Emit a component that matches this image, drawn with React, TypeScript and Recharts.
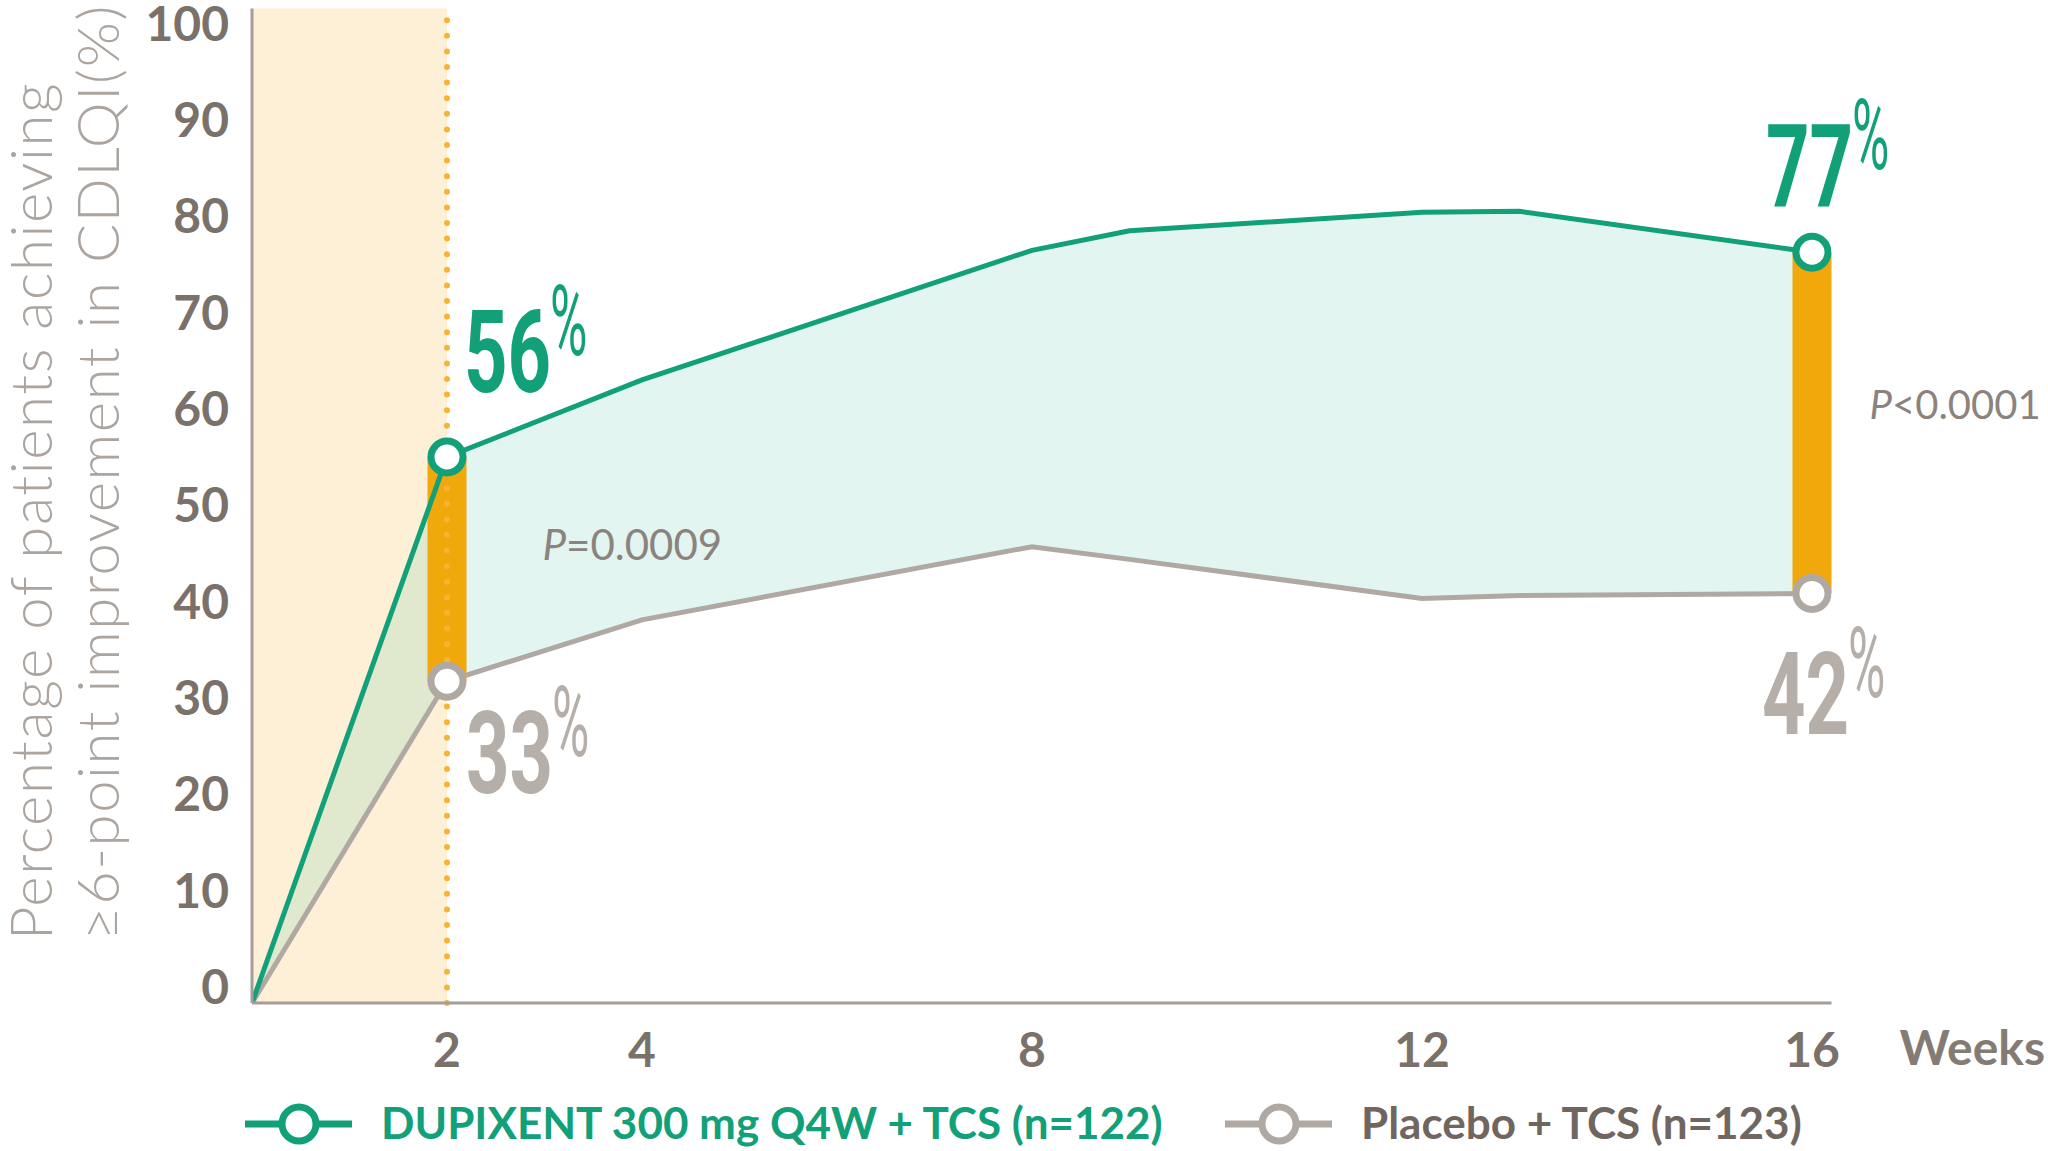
import React from "react";
import {
  ComposedChart, Line, Area, XAxis, YAxis,
  ReferenceArea, ReferenceLine, Legend,
} from "recharts";

// values
const weeks = [0, 2, 4, 8, 9, 12, 13, 16];
const dupixent = [0, 56, 63.9, 77.2, 79.2, 81.1, 81.2, 77];
const placebo = [0, 33, 39.3, 46.8, 45.5, 41.5, 41.8, 42];
const markedWeeks = [2, 16];
const runInWeeks = [0, 2];
const xTicks = [2, 4, 8, 12, 16];
const yTicks = [0, 10, 20, 30, 40, 50, 60, 70, 80, 90, 100];
const pValues = ["P=0.0009", "P<0.0001"];
const seriesNames = ["DUPIXENT 300 mg Q4W + TCS (n=122)", "Placebo + TCS (n=123)"];
const yTitle = ["Percentage of patients achieving", "≥6-point improvement in CDLQI(%)"];

const data = weeks.map((w, i) => ({
  week: w,
  dupixent: dupixent[i],
  placebo: placebo[i],
  band: [placebo[i], dupixent[i]],
}));

const GREEN = "#12A079";
const GREY = "#B0A8A3";
const GREY_TEXT = "#B5AEA9";
const ORANGE = "#F0A80B";
const BEIGE = "#FDF0D6";
const TICK = "#7B716B";
const TITLE = "#ABA49F";
const PTEXT = "#8C837E";

// where the big % callouts sit relative to their point
const bigOffsets: Record<string, Record<number, [number, number]>> = {
  dupixent: { 2: [17, -65], 16: [-46, -46] },
  placebo: { 2: [19, 112], 16: [-50, 140] },
};
// p-value text relative to the orange bar (right edge, vertical centre)
const pOffsets: [number, number][] = [[76, -9], [38, -4]];
const pSizes = [42, 40];

const BigValue = ({ x, y, text, color }: any) => (
  <g transform={`translate(${x},${y})`}>
    <text transform="scale(0.66,1)" fontFamily="Roboto" fontWeight={700} fontSize={115} fill={color}>
      {text}
    </text>
    <text transform="translate(86,-37) scale(0.52,1)" fontFamily="Roboto" fontWeight={400} fontSize={98} fill={color}>
      %
    </text>
  </g>
);

const makeBigLabel = (key: string, color: string) => (props: any) => {
  const { x, y, value, index } = props;
  const off = bigOffsets[key][weeks[index]];
  if (!off) return <g key={`bl-${key}-${index}`} />;
  return <BigValue key={`bl-${key}-${index}`} x={x + off[0]} y={y + off[1]} text={Math.round(value)} color={color} />;
};

const makeDot = (color: string) => (props: any) => {
  const { cx, cy, payload, index } = props;
  if (!markedWeeks.includes(payload.week)) return <g key={`d-${index}`} />;
  return <circle key={`d-${index}`} cx={cx} cy={cy} r={16} fill="#fff" stroke={color} strokeWidth={7} />;
};

// tick labels in the original sit on a slightly tighter spacing than the data
const YTick = ({ x, y, payload }: any) => (
  <text x={x} y={y + 1 + 0.115 * payload.value} textAnchor="end" fontFamily="Lato" fontWeight={700} fontSize={48} fill={TICK}>
    {payload.value}
  </text>
);

const XTick = ({ x, y, payload }: any) => (
  <text x={x} y={y + 62} textAnchor="middle" fontFamily="Lato" fontWeight={700} fontSize={48} fill={TICK}>
    {payload.value}
  </text>
);

const WeeksLabel = (props: any) => {
  const vb = props.viewBox || {};
  return (
    <text x={vb.x + vb.width + 68} y={1065} fontFamily="Lato" fontWeight={700} fontSize={48} fill="#857B75">
      Weeks
    </text>
  );
};

const YTitle = () => (
  <g fontFamily="Lato" fontWeight={300} fontSize={58} fill={TITLE} letterSpacing={1.6}>
    <text transform="translate(52,940) rotate(-90)">{yTitle[0]}</text>
    <text transform="translate(119,940) rotate(-90)">{yTitle[1]}</text>
  </g>
);

const makePLabel = (i: number) => (props: any) => {
  const vb = props.viewBox || {};
  const [dx, dy] = pOffsets[i];
  const text = pValues[i];
  return (
    <text x={vb.x + vb.width + dx} y={vb.y + vb.height / 2 + dy} fontFamily="Lato" fontSize={pSizes[i]} fill={PTEXT}>
      <tspan fontStyle="italic">{text[0]}</tspan>
      {text.slice(1)}
    </text>
  );
};

const legendSlots: [number, number][] = [[245, 381], [1225, 1361]];
const legendText = [GREEN, "#70665F"];

const LegendContent = ({ payload }: any) => {
  const items = (payload || []).filter((p: any) => p.type !== "none");
  return (
    <svg width={2048} height={60}>
      {items.map((p: any, i: number) => {
        const [ix, tx] = legendSlots[i];
        const c = p.color;
        return (
          <g key={p.value}>
            <line x1={ix} x2={ix + 107} y1={30} y2={30} stroke={c} strokeWidth={7} />
            <circle cx={ix + 54} cy={30} r={17} fill="#fff" stroke={c} strokeWidth={7} />
            <text x={tx} y={45} fontFamily="Lato" fontWeight={700} fontSize={44} fill={legendText[i]}>
              {p.value}
            </text>
          </g>
        );
      })}
    </svg>
  );
};

export default function App() {
  return (
    <div style={{ position: "absolute", left: 0, top: 0, width: 2048, height: 1151, background: "#fff" }}>
      <ComposedChart
        width={2048}
        height={1151}
        data={data}
        margin={{ top: 8.5, right: 216.5, bottom: 88, left: 132 }}
      >
        <XAxis
          dataKey="week"
          type="number"
          domain={[0, 16.2]}
          ticks={xTicks}
          allowDataOverflow
          height={60}
          tickSize={0}
          tickLine={false}
          axisLine={{ stroke: "#A59D98", strokeWidth: 3 }}
          tick={<XTick />}
          label={WeeksLabel}
        />
        <YAxis
          type="number"
          domain={[0, 102]}
          ticks={yTicks}
          allowDataOverflow
          width={120}
          tickSize={0}
          tickMargin={23}
          tickLine={false}
          axisLine={{ stroke: "#A59D98", strokeWidth: 3 }}
          tick={<YTick />}
          label={YTitle}
        />
        <ReferenceArea x1={runInWeeks[0]} x2={runInWeeks[1]} fill={BEIGE} fillOpacity={1} stroke="none" />
        <Area
          dataKey="band"
          type="linear"
          stroke="none"
          fill="#4DBF9F"
          fillOpacity={0.16}
          legendType="none"
          activeDot={false}
          isAnimationActive={false}
        />
        <ReferenceLine
          x={runInWeeks[1]}
          stroke="#F6B435"
          strokeWidth={6}
          strokeDasharray="0 15.6"
          strokeLinecap="round"
        />
        {markedWeeks.map((w, i) => {
          const k = weeks.indexOf(w);
          return (
            <ReferenceArea
              key={`gap-${w}`}
              x1={w - 0.2}
              x2={w + 0.2}
              y1={placebo[k]}
              y2={dupixent[k]}
              fill={ORANGE}
              fillOpacity={1}
              stroke="none"
              label={makePLabel(i)}
            />
          );
        })}
        <Line
          dataKey="placebo"
          name={seriesNames[1]}
          type="linear"
          stroke={GREY}
          strokeWidth={5}
          dot={makeDot(GREY)}
          activeDot={false}
          label={makeBigLabel("placebo", GREY_TEXT)}
          isAnimationActive={false}
        />
        <Line
          dataKey="dupixent"
          name={seriesNames[0]}
          type="linear"
          stroke={GREEN}
          strokeWidth={5}
          dot={makeDot(GREEN)}
          activeDot={false}
          label={makeBigLabel("dupixent", GREEN)}
          isAnimationActive={false}
        />
        <Legend
          layout="horizontal"
          verticalAlign="middle"
          align="center"
          content={<LegendContent />}
          wrapperStyle={{ left: 0, top: 1094, width: 2048, height: 60 }}
        />
      </ComposedChart>
    </div>
  );
}
